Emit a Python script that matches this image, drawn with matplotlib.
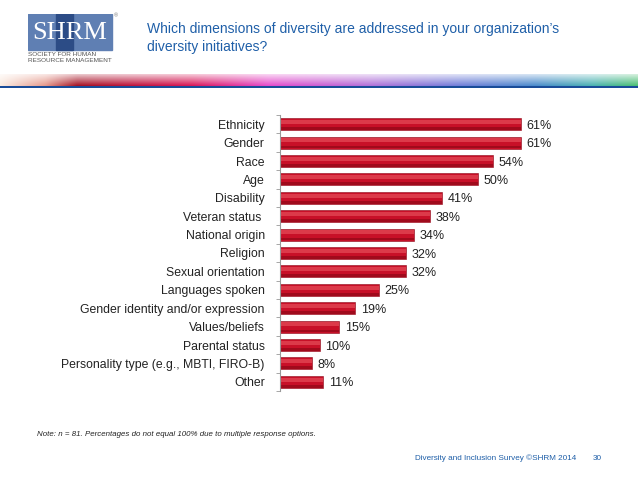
import numpy as np
import matplotlib.pyplot as plt
from matplotlib.patches import Rectangle

plt.rcParams['font.family'] = ['Liberation Sans', 'DejaVu Sans']

categories = ['Ethnicity', 'Gender', 'Race', 'Age', 'Disability', 'Veteran status ',
              'National origin', 'Religion', 'Sexual orientation', 'Languages spoken',
              'Gender identity and/or expression', 'Values/beliefs', 'Parental status',
              'Personality type (e.g., MBTI, FIRO-B)', 'Other']
values = [61, 61, 54, 50, 41, 38, 34, 32, 32, 25, 19, 15, 10, 8, 11]
value_labels = ['61%', '61%', '54%', '50%', '41%', '38%', '34%', '32%', '32%',
                '25%', '19%', '15%', '10%', '8%', '11%']

title = "Which dimensions of diversity are addressed in your organization\u2019s\ndiversity initiatives?"
note = "Note: n = 81. Percentages do not equal 100% due to multiple response options."
footer = "Diversity and Inclusion Survey \u00a9SHRM 2014"
page = "30"

W, H = 638, 478
fig = plt.figure(figsize=(W / 100, H / 100), dpi=100)
fig.patch.set_facecolor('white')

# main bar chart
ax = fig.add_axes([280 / W, 1 - 391 / H, 340 / W, 276 / H])
y = np.arange(len(categories))
ax.barh(y, values, height=0.66, color='#C81028', edgecolor='#8E0818', linewidth=0.4)
ax.barh(y - 0.12, values, height=0.22, color='#DC3A4A', linewidth=0)
ax.barh(y + 0.24, values, height=0.16, color='#A00A1C', linewidth=0)
for yi, v, lab in zip(y, values, value_labels):
    ax.text(v + 1.4, yi, lab, va='center_baseline', ha='left', fontsize=9,
            color='#222222')
ax.set_xlim(0, 340 / 3.95)
ax.set_ylim(len(categories) - 0.5, -0.5)
ax.set_yticks(y)
ax.set_yticklabels(categories, fontsize=8.8, color='#222222')
ax.set_yticks(np.arange(len(categories) + 1) - 0.5, minor=True)
ax.tick_params(axis='y', which='major', length=0, pad=11)
ax.tick_params(axis='y', which='minor', length=3, color='#999999', direction='out')
ax.set_xticks([])
for s in ['top', 'right', 'bottom']:
    ax.spines[s].set_visible(False)
ax.spines['left'].set_color('#999999')
ax.spines['left'].set_linewidth(0.8)

# logo
lax = fig.add_axes([28 / W, 1 - 64 / H, 90 / W, 50 / H])
lax.set_xlim(0, 90)
lax.set_ylim(50, 0)
lax.axis('off')
lax.add_patch(Rectangle((0, 0), 84, 36, color='#5F7FB3'))
lax.add_patch(Rectangle((28, 0), 17, 36, color='#2C4C86'))
lax.text(42, 19, 'SHRM', ha='center', va='center', color='white', fontsize=19,
         family='Liberation Serif')
lax.text(86, 2, '\u00ae', fontsize=4, color='#777777', va='center')
lax.text(0, 41, 'SOCIETY FOR HUMAN', fontsize=4.6, color='#555555', va='center')
lax.text(0, 47, 'RESOURCE MANAGEMENT', fontsize=4.6, color='#555555', va='center')

fig.text(147 / W, 1 - 38 / H, title, fontsize=10, color='#1F5FA8', va='center',
         ha='left', linespacing=1.3)

# colour stripe
sax = fig.add_axes([0, 1 - 88 / H, 1, 14 / H])
sax.axis('off')
grad = np.linspace(0, 1, 320)
stops = [(0.0, (0.98, 0.92, 0.88)), (0.07, (0.9, 0.6, 0.55)), (0.12, (0.65, 0.08, 0.15)),
         (0.3, (0.85, 0.1, 0.35)), (0.42, (0.9, 0.3, 0.8)), (0.58, (0.7, 0.45, 0.85)),
         (0.72, (0.45, 0.5, 0.85)), (0.84, (0.3, 0.55, 0.8)), (0.93, (0.3, 0.7, 0.7)),
         (1.0, (0.3, 0.75, 0.45))]
xs = [s[0] for s in stops]
rgb = np.stack([np.interp(grad, xs, [s[1][c] for s in stops]) for c in range(3)], axis=1)
nrow = 14
img = np.ones((nrow, 320, 3))
for i in range(nrow):
    t = i / (nrow - 1)
    if t < 0.85:
        a = 0.25 + 0.75 * t / 0.85
        img[i] = 1 - (1 - rgb) * a
    else:
        img[i] = (0.1, 0.3, 0.6)
sax.imshow(img, aspect='auto', extent=[0, 1, 0, 1], origin='upper', interpolation='bilinear')

fig.text(37 / W, 1 - 434 / H, note, fontsize=5.7, style='italic', color='#222222',
         va='center')
fig.text(415 / W, 1 - 458 / H, footer, fontsize=5.9, color='#1F5FA8', va='center',
         ha='left')
fig.text(593 / W, 1 - 458 / H, page, fontsize=5.9, color='#1F5FA8', va='center')

fig.savefig('out.png', dpi=100)
